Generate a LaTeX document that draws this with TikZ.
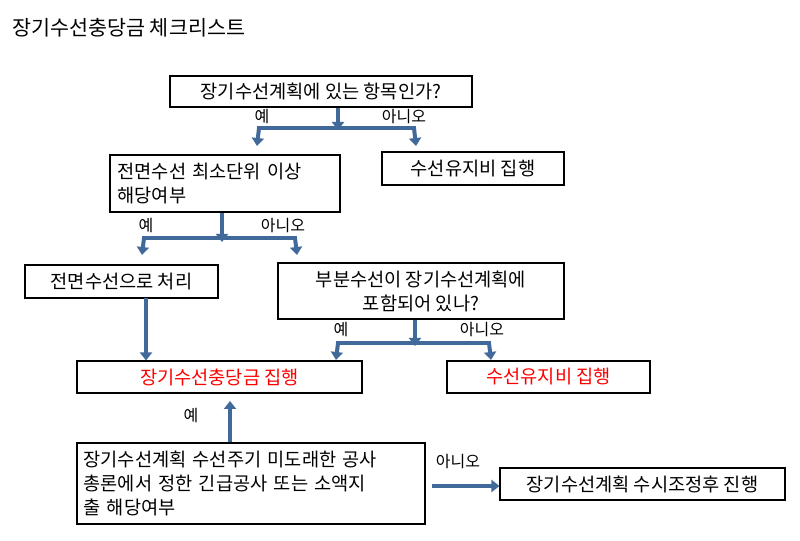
\documentclass[tikz,border=0pt]{standalone}
\usepackage{fontspec}
\setmainfont{Noto Sans CJK KR}
\usetikzlibrary{arrows.meta}
\definecolor{arr}{HTML}{41699A}
\begin{document}
\begin{tikzpicture}[x=0.75pt,y=-0.75pt,
  box/.style={draw,line width=0.8pt,inner sep=0pt,font=\fontsize{14}{18}\selectfont},
  lbl/.style={font=\fontsize{12}{14}\selectfont,inner sep=0pt},
  con/.style={draw=arr,line width=3pt},
  ar/.style={con,-{Triangle[width=9pt,length=6pt]}}]
\useasboundingbox (0,0) rectangle (800,541);
\node[anchor=west,font=\fontsize{15.5}{18}\selectfont,inner sep=0pt] (title) at (12,28) {장기수선충당금 체크리스트};
% boxes
\node[box,minimum width=302*0.75pt,minimum height=31*0.75pt] (b1) at (321,91.5) {장기수선계획에 있는 항목인가?};
\node[box,minimum width=230*0.75pt,minimum height=57*0.75pt,align=left,text width=215*0.75pt] (b2) at (225,183.5) {전면수선 최소단위 이상\\해당여부};
\node[box,minimum width=182*0.75pt,minimum height=33*0.75pt] (b3) at (473,168.5) {수선유지비 집행};
\node[box,minimum width=193*0.75pt,minimum height=33*0.75pt] (b4) at (121.5,281.5) {전면수선으로 처리};
\node[box,minimum width=286*0.75pt,minimum height=56*0.75pt,align=center] (b5) at (421,291) {부분수선이 장기수선계획에\\포함되어 있나?};
\node[box,minimum width=285*0.75pt,minimum height=32*0.75pt,text=red] (b6) at (219.5,377) {장기수선충당금 집행};
\node[box,minimum width=203*0.75pt,minimum height=32*0.75pt,text=red] (b7) at (548.5,377) {수선유지비 집행};
\node[box,minimum width=348*0.75pt,minimum height=81*0.75pt,align=left,text width=335*0.75pt] (b8) at (251,483.5) {장기수선계획 수선주기 미도래한 공사\\총론에서 정한 긴급공사 또는 소액지\\출 해당여부};
\node[box,minimum width=285*0.75pt,minimum height=32*0.75pt] (b9) at (642.5,484) {장기수선계획 수시조정후 진행};
% bar 1
\coordinate (l1) at (257,128); \coordinate (r1) at (416,128); \coordinate (j1) at (338,128);
\draw[ar] (b1.south -| j1) -- (338,130);
\draw[con] (l1) -- (r1);
\draw[ar] ([xshift=1.5pt]l1) -- (257,146);
\draw[ar] ([xshift=-1.5pt]r1) -- (416,146);
\node[lbl] (y1) at (262,117) {예};
\node[lbl] (n1) at (404,117) {아니오};
% bar 2
\coordinate (l2) at (142,238); \coordinate (r2) at (297,238); \coordinate (j2) at (222,238);
\draw[ar] (b2.south -| j2) -- (222,242);
\draw[con] (l2) -- (r2);
\draw[ar] ([xshift=1.5pt]l2) -- (142,255);
\draw[ar] ([xshift=-1.5pt]r2) -- (297,255);
\node[lbl] (y2) at (146,226) {예};
\node[lbl] (n2) at (283,226) {아니오};
% b4 to b6
\coordinate (c4) at (146,298);
\draw[ar] (c4) -- (b6.north -| c4);
% bar 3
\coordinate (l3) at (336,343); \coordinate (r3) at (491,343); \coordinate (j3) at (415,343);
\draw[ar] (b5.south -| j3) -- (415,346);
\draw[con] (l3) -- (r3);
\draw[ar] ([xshift=1.5pt]l3) -- (336,360);
\draw[ar] ([xshift=-1.5pt]r3) -- (491,360);
\node[lbl] (y3) at (341,330) {예};
\node[lbl] (n3) at (482,330) {아니오};
% b8
\coordinate (c8) at (230,443);
\draw[ar] (b8.north -| c8) -- (230,401);
\node[lbl] (y4) at (191,416) {예};
\coordinate (c9) at (432,486);
\draw[ar] (c9) -- (b9.west |- c9);
\node[lbl] (n4) at (458,462) {아니오};
\end{tikzpicture}
\end{document}
